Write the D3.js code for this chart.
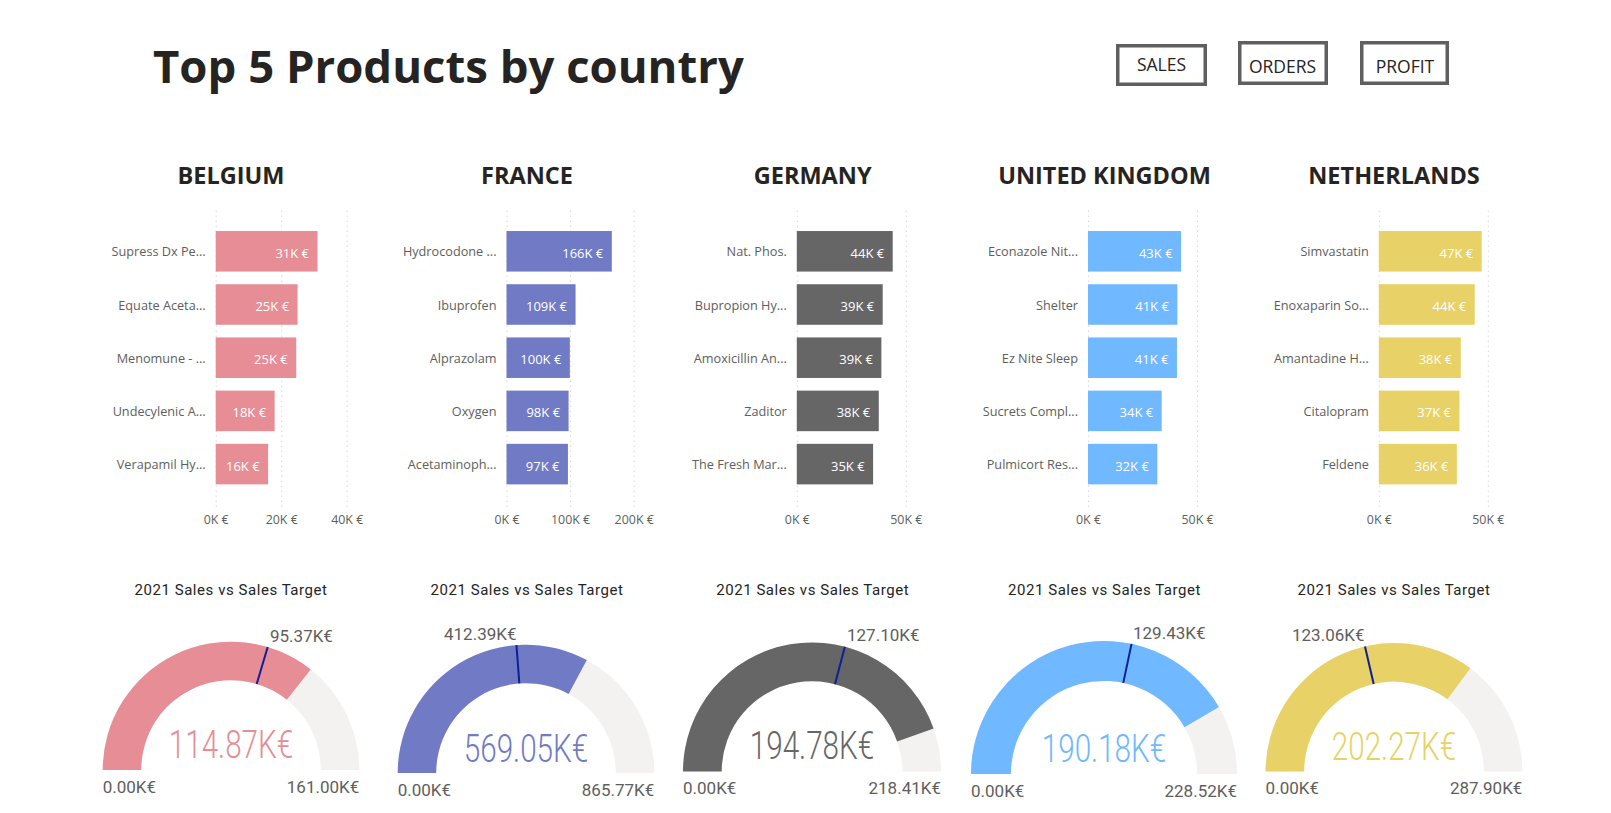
<!DOCTYPE html>
<html>
<head>
<meta charset="utf-8">
<script src="https://cdn.jsdelivr.net/npm/d3@7"></script>
<style>
  html, body { margin: 0; padding: 0; background: #fff; }
  svg { display: block; }
  text { font-family: "Open Sans", "Noto Sans", sans-serif; }
  .din { font-family: Roboto, sans-serif; }
</style>
</head>
<body>
<svg id="chart" width="1611" height="813"></svg>
<script>
// values
var countries = ['BELGIUM', 'FRANCE', 'GERMANY', 'UNITED KINGDOM', 'NETHERLANDS'];
var colors = ['#e68d96', '#717ac4', '#666666', '#70b8ff', '#e8d166'];

var belgiumProducts = ['Supress Dx Pe...', 'Equate Aceta...', 'Menomune - ...', 'Undecylenic A...', 'Verapamil Hy...'];
var franceProducts = ['Hydrocodone ...', 'Ibuprofen', 'Alprazolam', 'Oxygen', 'Acetaminoph...'];
var germanyProducts = ['Nat. Phos.', 'Bupropion Hy...', 'Amoxicillin An...', 'Zaditor', 'The Fresh Mar...'];
var ukProducts = ['Econazole Nit...', 'Shelter', 'Ez Nite Sleep', 'Sucrets Compl...', 'Pulmicort Res...'];
var netherlandsProducts = ['Simvastatin', 'Enoxaparin So...', 'Amantadine H...', 'Citalopram', 'Feldene'];

var belgiumSales = [31.1, 25.0, 24.6, 18.0, 16.0];
var franceSales = [165.6, 108.6, 99.6, 97.6, 96.6];
var germanySales = [44, 39.4, 38.8, 37.6, 35];
var ukSales = [42.7, 41, 40.8, 33.8, 31.8];
var netherlandsSales = [47.2, 44, 37.6, 37, 35.8];

var belgiumTicks = [0, 20, 40];
var franceTicks = [0, 100, 200];
var germanyTicks = [0, 50];
var ukTicks = [0, 50];
var netherlandsTicks = [0, 50];

var gaugeTitle = '2021 Sales vs Sales Target';
var gaugeValues = [114.87, 569.05, 194.78, 190.18, 202.27];
var gaugeTargets = [95.37, 412.39, 127.10, 129.43, 123.06];
var gaugeMaxes = [161.00, 865.77, 218.41, 228.52, 287.90];

var buttons = ['SALES', 'ORDERS', 'PROFIT'];

// layout
var panels = [
  { cx: 231, x0: 215.7, w: 131, max: 40, products: belgiumProducts, sales: belgiumSales, ticks: belgiumTicks,
    g: { cx: 231, cy: 770, r: 128.3, labelX: 270, labelY: 642, minY: 793, centerY: 758 } },
  { cx: 527, x0: 506.5, w: 127.2, max: 200, products: franceProducts, sales: franceSales, ticks: franceTicks,
    g: { cx: 526, cy: 773, r: 128.3, labelX: 444, labelY: 640, minY: 796, centerY: 762 } },
  { cx: 812.7, x0: 796.8, w: 109, max: 50, products: germanyProducts, sales: germanySales, ticks: germanyTicks,
    g: { cx: 812, cy: 771.5, r: 129, labelX: 847, labelY: 641, minY: 794, centerY: 759 } },
  { cx: 1104.5, x0: 1088, w: 109, max: 50, products: ukProducts, sales: ukSales, ticks: ukTicks,
    g: { cx: 1104, cy: 774, r: 133, labelX: 1133, labelY: 639, minY: 797, centerY: 762 } },
  { cx: 1394, x0: 1378.8, w: 109, max: 50, products: netherlandsProducts, sales: netherlandsSales, ticks: netherlandsTicks,
    g: { cx: 1394, cy: 771.5, r: 128.4, labelX: 1292, labelY: 641, minY: 794, centerY: 760 } }
];

var svg = d3.select('#chart');

svg.append('text')
  .attr('x', 153).attr('y', 83)
  .attr('font-size', 45.5).attr('font-weight', 700).attr('fill', '#252423')
  .text('Top 5 Products by country');

// buttons at the top right
var buttonBoxes = [[1116, 44, 91, 42], [1238, 41, 90, 44], [1360, 41, 89, 44]];
var buttonText = [[1161.5, 71], [1282.5, 73], [1405, 73]];
buttons.forEach(function(name, i) {
  var b = buttonBoxes[i];
  svg.append('rect')
    .attr('x', b[0] + 1.75).attr('y', b[1] + 1.75)
    .attr('width', b[2] - 3.5).attr('height', b[3] - 3.5)
    .attr('fill', '#fff').attr('stroke', '#5f5f5f').attr('stroke-width', 3.5);
  svg.append('text')
    .attr('x', buttonText[i][0]).attr('y', buttonText[i][1])
    .attr('text-anchor', 'middle').attr('font-size', 17.5).attr('fill', '#252423')
    .text(name);
});

var gridTop = 210.7, axisY = 506.7;

panels.forEach(function(p, i) {
  var color = colors[i];
  var g = svg.append('g');

  g.append('text')
    .attr('x', p.cx).attr('y', 184)
    .attr('text-anchor', 'middle').attr('font-size', 23.5).attr('font-weight', 700).attr('fill', '#252423')
    .text(countries[i]);

  var x = d3.scaleLinear().domain([0, p.max]).range([p.x0, p.x0 + p.w]);
  var y = d3.scaleBand().domain(p.products).range([224.7, 490.7]).paddingInner(0.238).paddingOuter(0.119);

  // gridlines come from the axis ticks
  var axis = g.append('g')
    .attr('transform', 'translate(0,' + axisY + ')')
    .call(d3.axisBottom(x)
      .tickValues(p.ticks)
      .tickSize(-(axisY - gridTop))
      .tickPadding(9)
      .tickFormat(function(d) { return d + 'K €'; }));
  axis.select('.domain').remove();
  axis.selectAll('line').attr('stroke', '#c8c6c4').attr('stroke-width', 1).attr('stroke-dasharray', '1 4');
  axis.selectAll('text').attr('font-size', 12.4).attr('fill', '#605e5c').attr('font-family', '"Open Sans", sans-serif');

  g.selectAll('rect.bar').data(p.sales).enter().append('rect')
    .attr('class', 'bar')
    .attr('x', x(0))
    .attr('y', function(d, k) { return y(p.products[k]); })
    .attr('width', function(d) { return x(d) - x(0); })
    .attr('height', y.bandwidth())
    .attr('fill', color);

  g.selectAll('text.cat').data(p.products).enter().append('text')
    .attr('class', 'cat')
    .attr('x', x(0) - 10)
    .attr('y', function(d) { return y(d) + y.bandwidth() / 2 + 5; })
    .attr('text-anchor', 'end').attr('font-size', 12.7).attr('fill', '#605e5c')
    .text(function(d) { return d; });

  g.selectAll('text.val').data(p.sales).enter().append('text')
    .attr('class', 'val')
    .attr('x', function(d) { return x(d) - 8.5; })
    .attr('y', function(d, k) { return y(p.products[k]) + y.bandwidth() / 2 + 6.5; })
    .attr('text-anchor', 'end').attr('font-size', 13).attr('fill', '#fff')
    .text(function(d) { return Math.round(d) + 'K €'; });

  // gauge
  var o = p.g;
  var inner = o.r * 0.7;
  var angle = d3.scaleLinear().domain([0, gaugeMaxes[i]]).range([-Math.PI / 2, Math.PI / 2]);
  var arc = d3.arc().innerRadius(inner).outerRadius(o.r);
  var gauge = g.append('g').attr('transform', 'translate(' + o.cx + ',' + o.cy + ')');

  gauge.append('path')
    .attr('d', arc({ startAngle: -Math.PI / 2, endAngle: Math.PI / 2 }))
    .attr('fill', '#f3f2f1');
  gauge.append('path')
    .attr('d', arc({ startAngle: -Math.PI / 2, endAngle: angle(gaugeValues[i]) }))
    .attr('fill', color);

  var a = angle(gaugeTargets[i]);
  gauge.append('line')
    .attr('x1', inner * Math.sin(a)).attr('y1', -inner * Math.cos(a))
    .attr('x2', o.r * Math.sin(a)).attr('y2', -o.r * Math.cos(a))
    .attr('stroke', '#0f1f96').attr('stroke-width', 2);

  g.append('text').attr('class', 'din')
    .attr('x', p.cx).attr('y', 595)
    .attr('text-anchor', 'middle').attr('font-size', 15).attr('fill', '#252423')
    .attr('letter-spacing', 0.55)
    .text(gaugeTitle);

  g.append('text').attr('class', 'din')
    .attr('x', o.labelX).attr('y', o.labelY)
    .attr('font-size', 17).attr('fill', '#605e5c')
    .text(gaugeTargets[i].toFixed(2) + 'K€');

  g.append('text').attr('class', 'din')
    .attr('x', o.cx - o.r).attr('y', o.minY)
    .attr('font-size', 17).attr('fill', '#605e5c')
    .text('0.00K€');

  g.append('text').attr('class', 'din')
    .attr('x', o.cx + o.r).attr('y', o.minY)
    .attr('text-anchor', 'end').attr('font-size', 17).attr('fill', '#605e5c')
    .text(gaugeMaxes[i].toFixed(2) + 'K€');

  // big number is a condensed face in the original, squeeze it sideways
  g.append('text').attr('class', 'din')
    .attr('transform', 'translate(' + o.cx + ',' + o.centerY + ') scale(0.78,1)')
    .attr('text-anchor', 'middle').attr('font-size', 38).attr('font-weight', 300).attr('fill', color)
    .text(gaugeValues[i].toFixed(2) + 'K€');
});
</script>
</body>
</html>
